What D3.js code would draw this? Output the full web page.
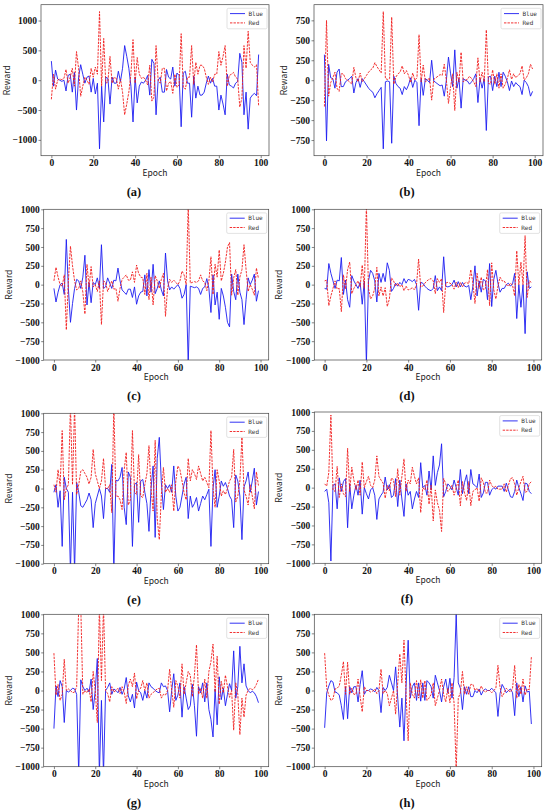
<!DOCTYPE html>
<html>
<head>
<meta charset="utf-8">
<script src="https://cdn.jsdelivr.net/npm/d3@7"></script>
<style>
  html, body { margin: 0; padding: 0; background: #fff; }
  svg { display: block; }
</style>
</head>
<body>
<div id="chart"></div>
<script>

// reward per epoch (index = epoch 0..99)
var blueA = [320,-100,170,20,0,-20,0,-180,80,100,
    -200,130,-500,50,260,100,-50,50,70,-200,
    30,-230,-50,-1150,-100,-700,50,30,-400,50,
    -50,-50,150,-20,200,580,400,200,-100,-700,
    50,-380,-100,-30,-50,0,80,-250,350,280,
    -580,0,50,-200,-200,180,50,20,220,-100,
    120,80,-780,120,150,-50,-50,-620,70,-300,
    -100,-250,-250,-200,-50,70,-50,30,-100,-100,
    -500,-250,-400,-580,100,-80,-100,-130,-50,-20,
    450,300,-580,-200,-820,-300,-250,-220,-260,430];
var redA = [-320,100,-150,0,20,10,30,180,-50,50,
    200,-100,480,200,-270,-100,50,0,-70,200,
    50,220,100,1150,-100,700,-50,-30,400,-50,
    50,30,-150,20,-200,-580,-400,-200,100,680,
    -50,380,100,30,50,0,-80,250,-350,-280,
    580,0,-50,200,200,-180,-50,-20,-220,100,
    -120,-80,780,-120,-150,50,50,580,-70,300,
    100,250,250,200,50,-70,50,-30,100,100,
    480,250,400,580,-100,80,100,130,50,20,
    -450,-300,580,200,820,300,250,220,260,-430];

var blueB = [320,-760,200,30,20,-100,100,140,-80,-80,
    -20,0,20,50,-160,-30,20,-90,20,-20,
    -60,-100,-130,-150,-220,-170,-130,-90,-860,-20,
    -10,-20,-790,50,-40,-80,-100,-180,-80,-120,
    -60,30,-90,0,-30,-570,20,-190,20,0,
    -30,250,-10,-30,-50,-70,-60,-200,0,290,
    80,-80,380,-100,20,-350,20,0,-10,-50,
    -20,20,80,-280,20,-100,20,-630,40,50,
    -130,50,-80,100,-80,100,50,-20,-130,-10,
    -80,-30,-60,-80,-180,0,-30,-80,-200,-140];
var redB = [-330,750,-200,-30,30,100,-100,-140,80,80,
    20,0,-20,-50,160,30,-20,90,-20,20,
    60,100,130,150,220,170,130,90,860,20,
    10,20,790,-50,40,80,100,180,80,120,
    60,-30,90,0,30,570,-20,190,-20,0,
    30,-250,10,30,50,70,60,200,0,-290,
    -80,80,-380,100,-20,350,-20,0,10,50,
    20,-20,-80,280,-20,100,-20,630,-40,-50,
    130,-50,80,-100,80,-100,-50,20,130,10,
    80,30,60,80,180,0,30,80,200,140];

var blueC = [-50,-230,-100,0,20,-130,600,-50,-500,-250,
    -50,70,50,-50,100,390,-270,30,-240,30,
    0,90,-50,530,-50,-30,90,20,-50,60,
    50,220,50,-70,-100,-130,-60,-60,-170,-30,
    -260,-150,-100,-90,130,-150,200,-100,270,-120,
    -50,50,-70,-150,420,50,-70,-30,-60,-30,
    0,-50,-180,-130,0,-1050,-20,-30,-40,-30,
    -50,-130,-50,-30,80,-50,-370,130,-270,-100,
    -460,-50,-150,-300,-500,-560,140,-90,-200,140,
    -100,-200,-530,-200,90,0,60,140,-220,-80];
var redC = [50,230,100,0,-20,130,-600,50,510,250,
    50,-70,-50,50,-100,-390,270,-30,240,-30,
    0,-90,50,-530,50,30,-90,-20,50,-60,
    -50,-220,-50,70,100,130,60,60,170,30,
    260,150,100,90,-130,150,-200,100,-270,120,
    50,-50,70,150,-420,-50,70,30,60,30,
    0,50,180,130,0,1050,20,30,40,30,
    50,130,50,30,-80,50,370,-130,270,100,
    460,50,150,300,500,560,-140,90,200,-140,
    100,200,530,200,-90,0,-60,-140,220,80];

var blueD = [-50,-60,280,150,50,-50,60,50,360,-130,
    60,-200,-300,120,50,0,-50,30,-260,50,
    -1050,50,190,150,50,-230,150,30,150,40,
    290,190,-90,-50,20,-20,30,0,80,20,
    70,60,40,70,0,-340,30,20,-20,-50,
    -70,-80,-50,120,-80,-30,-80,370,-20,-30,
    -20,0,60,-30,40,-30,30,-20,-30,-10,
    -200,-20,250,-150,50,-100,70,50,-200,280,
    -290,70,190,20,-100,-50,-50,0,20,-20,
    10,150,-450,0,-300,0,-650,170,-50,-30];
var redD = [50,60,-280,-150,-50,50,-60,-50,-360,130,
    -60,200,300,-120,-50,0,50,-30,260,-50,
    1050,-50,-190,-150,-50,230,-150,-30,-150,-40,
    -290,-190,90,50,-20,20,-30,0,-80,-20,
    -70,-60,-40,-70,0,340,-30,-20,20,50,
    70,80,50,-120,80,30,80,-370,20,30,
    20,0,-60,30,-40,30,-30,20,30,10,
    200,20,-250,150,-50,100,-70,-50,200,-280,
    290,-70,-190,-20,100,50,50,0,-20,20,
    -10,-150,450,0,300,0,650,-170,50,30];

var blueE = [-50,50,-250,-30,-770,150,0,-50,-1100,-50,
    -1100,80,-50,-230,-250,-200,-150,-60,-150,-520,
    -200,-100,0,-100,-400,0,0,-50,320,-1100,
    110,100,150,280,-250,-480,220,150,-770,50,
    80,-450,100,120,-50,-200,-570,0,300,-650,
    400,680,80,-280,50,0,50,-50,300,-100,
    -300,-250,-100,60,150,-400,-100,-250,-200,-120,
    -300,-200,-100,-150,-80,-10,-770,0,250,-250,
    -100,100,30,80,0,-100,-150,-520,180,100,
    -100,-680,20,100,220,-50,100,270,-220,-40];
var redE = [50,-50,250,30,770,-150,0,50,1100,50,
    1100,-80,50,230,250,200,150,60,150,520,
    200,100,0,100,400,0,0,50,-320,1100,
    -110,-100,-150,-280,250,480,-220,-150,770,-50,
    -80,450,-100,-120,50,200,570,0,-300,640,
    -400,-680,-80,280,-50,0,-50,50,-300,100,
    300,250,100,-60,-150,400,100,250,200,120,
    300,200,100,150,80,10,770,0,-250,250,
    100,-100,-30,-80,0,100,150,520,-180,-100,
    100,680,-20,-100,-220,50,-100,-270,220,40];

var blueF = [-50,-20,-200,-970,30,50,-280,130,-50,80,
    120,-530,50,-280,-100,30,-100,100,-350,0,
    -80,-150,-30,0,-100,-420,-150,-100,-60,140,
    -30,40,-130,-100,120,-250,100,-150,-380,50,
    -100,-50,-280,-150,-50,-130,330,0,30,-100,
    220,-30,420,30,200,300,580,-120,-50,50,
    20,-30,100,0,-100,240,-80,70,170,-80,
    240,50,30,0,180,-130,-70,70,70,-100,
    -30,0,-20,20,20,20,-50,60,-30,-120,
    -130,-50,100,0,-80,-170,60,50,-50,-80];
var redF = [50,20,200,960,-30,-50,280,-130,50,-80,
    -120,520,-50,270,100,-30,100,-100,340,0,
    80,150,30,0,100,420,150,100,60,-140,
    30,-40,130,100,-120,250,-100,150,380,-50,
    100,50,270,150,50,130,-330,0,-30,100,
    -220,30,-440,-30,-200,-300,-580,120,50,-50,
    -20,30,-100,0,100,-240,80,-70,-170,80,
    -240,-50,-30,0,-180,130,70,-70,-70,100,
    30,0,20,-20,-20,-20,50,-60,30,120,
    130,50,-100,0,80,150,-60,-50,50,80];

var blueG = [-500,60,-80,130,50,-420,0,-20,0,30,
    20,-50,-1100,140,50,0,30,-20,150,-250,
    0,420,-1100,-130,-1100,0,40,100,-50,20,
    0,-30,40,-50,20,170,-70,-150,-50,-230,
    110,0,-30,-130,0,-100,100,50,30,0,
    -20,-30,100,50,60,0,-280,0,220,-130,
    -60,100,-350,50,-100,-250,-200,80,-200,-600,
    50,-30,100,-150,100,-250,-380,-610,20,-450,
    180,-120,30,-200,-50,90,0,520,-100,50,
    580,100,350,60,0,-30,-10,-30,-80,-160];
var redG = [490,-60,80,-130,-50,410,0,20,0,-30,
    -20,50,1100,1100,-50,0,-30,20,-150,250,
    0,-420,1100,130,1100,0,-40,-150,50,-20,
    0,30,-40,50,-20,-170,70,150,50,230,
    -110,0,30,130,0,100,-100,-50,-30,0,
    20,30,-100,-50,-60,0,280,0,-220,130,
    60,-100,350,-50,100,250,200,-80,200,600,
    -50,30,-100,150,-100,250,380,610,-20,450,
    -180,120,-30,200,50,-90,0,-520,100,-50,
    -580,-100,-350,-60,0,30,10,30,80,150];

var blueH = [-490,-30,60,130,110,-20,-30,-60,-200,-380,
    50,-370,50,-30,50,50,-150,80,260,-50,
    0,0,20,10,-20,40,0,-290,40,0,
    40,200,100,0,310,-100,-480,-100,-660,50,
    660,-100,50,100,-130,100,-140,100,-130,130,
    100,50,-100,200,100,0,-150,50,150,-30,
    160,-100,170,1000,100,30,-250,50,-50,50,
    -80,-80,0,-30,20,-60,0,20,0,0,
    30,0,-30,-340,-40,80,30,-30,0,20,
    -30,-330,100,-80,50,-150,60,-20,-10,-440];
var redH = [490,30,-60,-130,-110,20,30,60,200,380,
    -50,370,-50,30,-50,-50,150,-80,-280,50,
    0,0,-20,-10,20,-40,0,280,-40,0,
    -40,-200,-100,0,-310,100,480,100,660,-50,
    -660,100,-50,-100,130,-100,140,-100,130,-130,
    -100,-50,100,-200,-100,0,150,-50,-150,30,
    -160,100,-170,-1050,-100,-30,250,-50,50,-50,
    80,80,0,30,-20,60,0,-20,0,0,
    -30,0,30,330,40,-80,-30,30,0,-20,
    30,330,-100,80,-50,150,-60,20,10,440];

var captions = ["(a)", "(b)", "(c)", "(d)", "(e)", "(f)", "(g)", "(h)"];
var seriesNames = ["Blue", "Red"];
var xTicks = [0, 20, 40, 60, 80, 100];
var fixedLimits = [-1000, 1000];
var yStepsAuto = [500, 250];   // tick spacing for the two auto-scaled plots (a), (b)

// layout of each subfigure: axes box in page pixels
var layout = [
    {blue: blueA, red: redA, x0: 41,    y0: 4.7,   x1: 269,   y1: 155.7, auto: true, step: yStepsAuto[0], ylabX: 7.5,  capX: 134},
    {blue: blueB, red: redB, x0: 314,   y0: 4.7,   x1: 543,   y1: 155.7, auto: true, step: yStepsAuto[1], ylabX: 284,  capX: 407},
    {blue: blueC, red: redC, x0: 43.7,  y0: 209.3, x1: 268.7, y1: 360,   auto: false, step: 250, ylabX: 9,    capX: 134},
    {blue: blueD, red: redD, x0: 314.3, y0: 209.3, x1: 541.7, y1: 360,   auto: false, step: 250, ylabX: 279,  capX: 407},
    {blue: blueE, red: redE, x0: 43.7,  y0: 413.3, x1: 268.7, y1: 563.7, auto: false, step: 250, ylabX: 9,    capX: 134},
    {blue: blueF, red: redF, x0: 314.3, y0: 412,   x1: 541.7, y1: 563.3, auto: false, step: 250, ylabX: 279,  capX: 407},
    {blue: blueG, red: redG, x0: 43.7,  y0: 614.3, x1: 268.7, y1: 766.7, auto: false, step: 250, ylabX: 9,    capX: 134},
    {blue: blueH, red: redH, x0: 314.3, y0: 614.3, x1: 541.7, y1: 766.7, auto: false, step: 250, ylabX: 279,  capX: 407}
];

var blueColor = "#1c1cf2",
    redColor = "#f01c1c";

var tickFont = "'Liberation Serif', 'Times New Roman', serif";

var svg = d3.select("#chart").append("svg")
    .attr("width", 550)
    .attr("height", 810);

layout.forEach(function(p, i) {
    var w = p.x1 - p.x0,
        h = p.y1 - p.y0;
    var n = p.blue.length;

    // matplotlib style 5% margin on x
    var xPad = (n - 1) * 0.05;
    var x = d3.scaleLinear().domain([-xPad, n - 1 + xPad]).range([0, w]);

    var yDomain;
    if (p.auto) {
        var lo = d3.min(p.blue.concat(p.red)),
            hi = d3.max(p.blue.concat(p.red));
        var pad = (hi - lo) * 0.05;
        yDomain = [lo - pad, hi + pad];
    } else {
        yDomain = fixedLimits;
    }
    var y = d3.scaleLinear().domain(yDomain).range([h, 0]);

    var yTicks = d3.range(Math.ceil(yDomain[0] / p.step) * p.step, yDomain[1] + 1, p.step);

    var g = svg.append("g")
        .attr("transform", "translate(" + p.x0 + "," + p.y0 + ")");

    g.append("clipPath").attr("id", "clip" + i)
        .append("rect").attr("width", w).attr("height", h);

    // axes (no thousands separator, unicode minus like matplotlib)
    var xAxis = g.append("g")
        .attr("transform", "translate(0," + h + ")")
        .call(d3.axisBottom(x).tickValues(xTicks).tickFormat(d3.format("d"))
            .tickSize(2.5).tickPadding(1.5));
    var yAxis = g.append("g")
        .call(d3.axisLeft(y).tickValues(yTicks).tickFormat(d3.format("d"))
            .tickSize(2.5).tickPadding(1.5));

    [xAxis, yAxis].forEach(function(ax) {
        ax.attr("font-family", null).attr("font-size", null);
        ax.select(".domain").remove();
        ax.selectAll("line").attr("stroke", "#333").attr("stroke-width", 0.6);
        ax.selectAll("text")
            .attr("fill", "#111")
            .attr("font-family", tickFont)
            .attr("font-weight", "bold")
            .attr("font-size", 9.5);
    });

    var line = d3.line()
        .x(function(d, k) { return x(k); })
        .y(function(d) { return y(d); });

    var plot = g.append("g").attr("clip-path", "url(#clip" + i + ")");

    plot.append("path")
        .datum(p.blue)
        .attr("d", line)
        .attr("fill", "none")
        .attr("stroke", blueColor)
        .attr("stroke-width", 0.9)
        .attr("stroke-linejoin", "round");

    plot.append("path")
        .datum(p.red)
        .attr("d", line)
        .attr("fill", "none")
        .attr("stroke", redColor)
        .attr("stroke-width", 0.9)
        .attr("stroke-dasharray", "2.4,1.1");

    // frame
    g.append("rect")
        .attr("width", w).attr("height", h)
        .attr("fill", "none")
        .attr("stroke", "#444")
        .attr("stroke-width", 0.7);

    // legend
    var leg = g.append("g").attr("transform", "translate(" + (w - 42) + ",3.6)");
    leg.append("rect")
        .attr("width", 40).attr("height", 20.5)
        .attr("rx", 1.5)
        .attr("fill", "#fff").attr("fill-opacity", 0.85)
        .attr("stroke", "#cfcfcf").attr("stroke-width", 0.6);
    seriesNames.forEach(function(name, k) {
        var ly = 5.3 + k * 9.3;
        leg.append("line")
            .attr("x1", 3).attr("x2", 18)
            .attr("y1", ly).attr("y2", ly)
            .attr("stroke", k === 0 ? blueColor : redColor)
            .attr("stroke-width", 0.9)
            .attr("stroke-dasharray", k === 0 ? null : "2.4,1.1");
        leg.append("text")
            .attr("x", 21.5).attr("y", ly)
            .attr("dy", "0.35em")
            .attr("fill", "#333")
            .style("font-family", "'DejaVu Sans Mono', monospace")
            .style("font-size", "6px")
            .text(name);
    });

    // axis titles
    svg.append("text")
        .attr("x", p.x0 + w / 2)
        .attr("y", p.y1 + 20)
        .attr("text-anchor", "middle")
        .attr("fill", "#222")
        .style("font-family", "'Noto Sans CJK SC', 'Noto Sans', sans-serif")
        .style("font-size", "8.5px")
        .text("Epoch");

    svg.append("text")
        .attr("transform", "translate(" + p.ylabX + "," + (p.y0 + h / 2) + ") rotate(-90)")
        .attr("dy", "0.35em")
        .attr("text-anchor", "middle")
        .attr("fill", "#222")
        .style("font-family", "'Noto Sans CJK SC', 'Noto Sans', sans-serif")
        .style("font-size", "8.5px")
        .text("Reward");

    // subfigure caption
    svg.append("text")
        .attr("x", p.capX)
        .attr("y", p.y1 + 40)
        .attr("text-anchor", "middle")
        .attr("fill", "#111")
        .style("font-family", tickFont)
        .style("font-weight", "bold")
        .style("font-size", "12.5px")
        .text(captions[i]);
});

</script>
</body>
</html>
